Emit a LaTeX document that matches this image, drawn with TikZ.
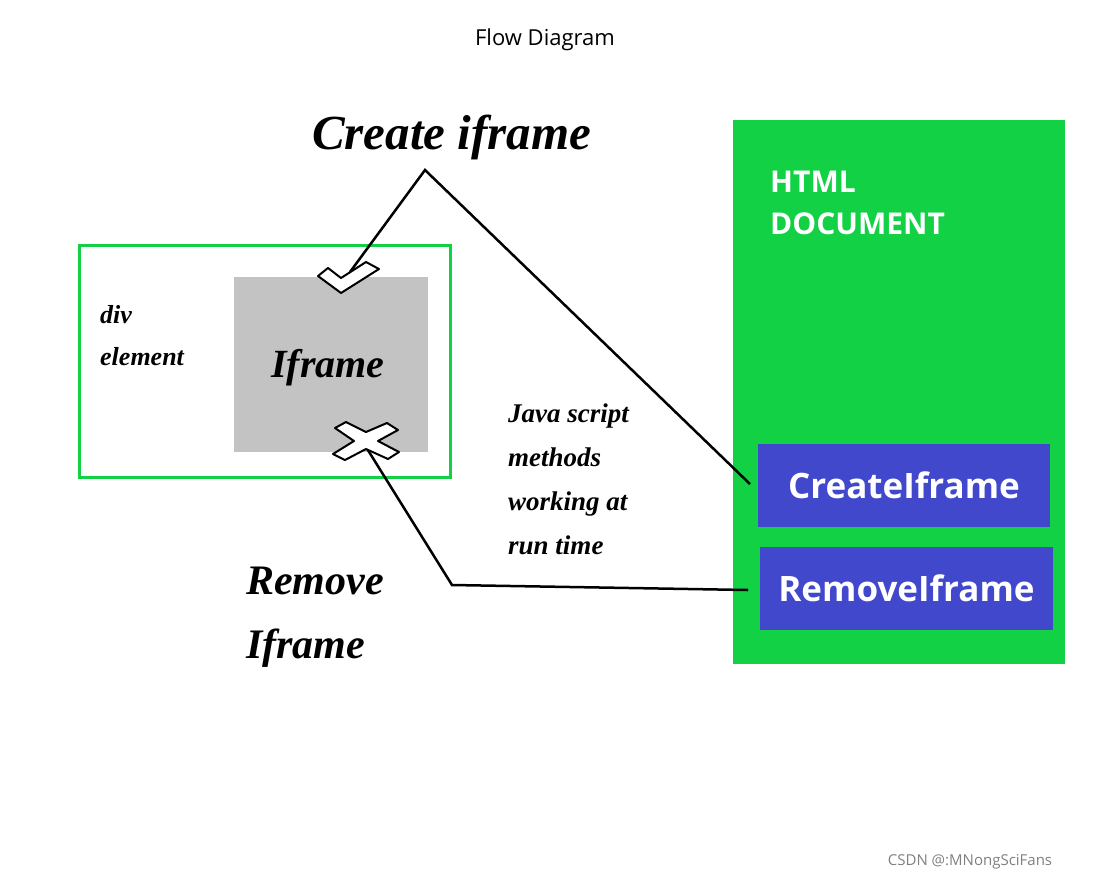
\documentclass[tikz,border=0pt]{standalone}
\usepackage{fontspec}
\setmainfont{Liberation Serif}
\newfontfamily\uisans{Open Sans}
\definecolor{htmlgreen}{HTML}{12D145}
\definecolor{btnblue}{HTML}{4148CC}
\definecolor{iframegray}{HTML}{C3C3C3}
\begin{document}
\begin{tikzpicture}[x=1pt,y=-1pt,
  hand/.style={font=\itshape\bfseries, text=black, inner sep=0, anchor=west},
  btn/.style={fill=btnblue, draw=none, font=\uisans\bfseries\fontsize{35}{40}\selectfont, text=white},
  conn/.style={line width=2.5pt, black},
  glyph/.style={draw=black, fill=white, line width=2pt, line join=round}]
\useasboundingbox (0,0) rectangle (1099,884);
\fill[white] (0,0) rectangle (1099,884);
\node[font=\uisans\fontsize{22}{26}\selectfont] (title) at (545,40) {Flow Diagram};
\fill[htmlgreen] (733,120) rectangle (1065,664);
\node[anchor=west, align=left, text=white, font=\uisans\bfseries\fontsize{30}{42}\selectfont, inner sep=0] (html) at (770,203) {HTML\\DOCUMENT};
\node[btn, minimum width=292, minimum height=83] (create) at (904,485.5) {CreateIframe};
\node[btn, minimum width=293, minimum height=83] (remove) at (906.5,588.5) {RemoveIframe};
\draw[htmlgreen, line width=3pt] (79,245) rectangle (450,477);
\node[fill=iframegray, minimum width=194, minimum height=175, inner sep=0] (ifr) at (331,364.5) {};
\node[font=\itshape\bfseries\fontsize{40}{44}\selectfont] (ifrtxt) at (328,368) {Iframe};
\node[hand, align=left, font=\itshape\bfseries\fontsize{26}{42}\selectfont] (div) at (100,336) {div\\element};
\node[hand, font=\itshape\bfseries\fontsize{49}{52}\selectfont] (ctitle) at (312,137) {Create iframe};
\node[hand, align=left, font=\itshape\bfseries\fontsize{42}{64}\selectfont] (rtitle) at (246,617) {Remove\\Iframe};
\node[hand, align=left, font=\itshape\bfseries\fontsize{27}{44}\selectfont] (js) at (508,479) {Java script\\methods\\working at\\run time};
\node[text=gray, font=\uisans\fontsize{15}{18}\selectfont] (csdn) at (970,862) {CSDN @:MNongSciFans};
\coordinate (apex) at (425,170);
\coordinate (check) at (350,272);
\coordinate (xm) at (366,447);
\coordinate (bend) at (452,585);
\coordinate (cend) at (750,484);
\coordinate (rend) at (748,590);
\draw[conn] (check) -- (apex) -- (cend);
\draw[conn] (xm) -- (bend) -- (rend);
\draw[glyph] (318,276) -- (328,268) -- (341,278) -- (366,262) -- (379,269) -- (341,293) -- cycle;
\draw[glyph] (335,428) -- (346,422) -- (366,432) -- (387,423) -- (398,430) -- (378,441) -- (399,452) -- (388,459) -- (366,449) -- (345,460) -- (333,454) -- (354,441) -- cycle;
\end{tikzpicture}
\end{document}
